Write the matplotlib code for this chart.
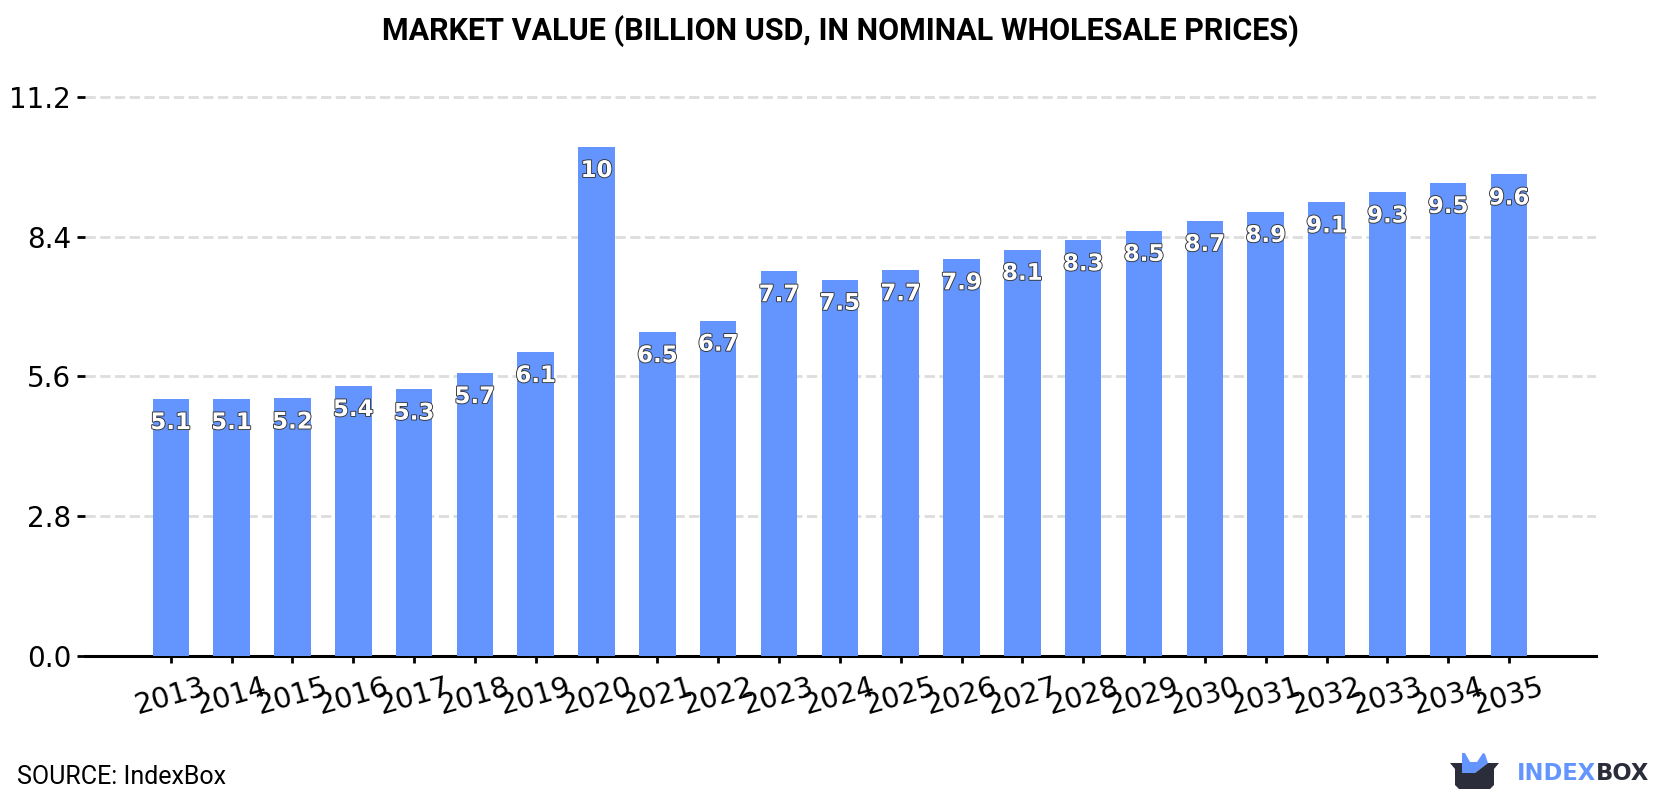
import matplotlib
matplotlib.use('Agg')
import matplotlib.pyplot as plt
import matplotlib.patheffects as pe
from matplotlib.patches import Polygon

years = list(range(2013, 2036))
values = [5.149, 5.149, 5.16, 5.41, 5.34, 5.67, 6.09, 10.2, 6.49, 6.72, 7.71, 7.54,
          7.73, 7.949, 8.14, 8.33, 8.52, 8.72, 8.90, 9.09, 9.29, 9.48, 9.649]
yticks = [0.0, 2.8, 5.6, 8.4, 11.2]

BLUE = '#6495ff'
DARK = '#2b2d3a'
W, H = 1680, 800

fig = plt.figure(figsize=(W / 100, H / 100), dpi=100)
ax = fig.add_axes([85 / W, 1 - 656 / H, (1596 - 85) / W, (656 - 90) / H])

ax.bar(years, values, width=0.6, color=BLUE, zorder=3)

# value labels sit just inside the top of each bar
for year, value in zip(years, values):
    ax.annotate(f'{value:.2g}', (year, value), xytext=(0, -17), textcoords='offset points',
                ha='center', va='center', fontsize=16.5, fontweight='bold', color='white',
                zorder=4, path_effects=[pe.withStroke(linewidth=1.3, foreground='#333333')])

ax.set_xlim(2011.59, 2036.43)
ax.set_ylim(0, 11.34)
ax.set_xticks(years)
ax.set_xticklabels([str(y) for y in years], rotation=16, fontsize=20.5)
ax.set_yticks(yticks)
ax.set_yticklabels([f'{t:.1f}' for t in yticks], fontsize=20)
ax.tick_params(axis='y', length=6, width=2, pad=4)
ax.tick_params(axis='x', length=5, width=2, pad=7)
ax.grid(axis='y', color='#dddddd', linestyle='--', linewidth=2, zorder=0)
ax.set_axisbelow(True)

for side in ['top', 'left', 'right']:
    ax.spines[side].set_visible(False)
ax.spines['bottom'].set_linewidth(2.2)

fig.text(840 / W, 1 - 31 / H, 'MARKET VALUE (BILLION USD, IN NOMINAL WHOLESALE PRICES)',
         family='Roboto', fontweight='bold', fontsize=22, ha='center', va='center', color='black')
fig.text(17 / W, 1 - 777 / H, 'SOURCE: IndexBox', family='Roboto', fontsize=18,
         ha='left', va='center', color='black')

# logo, laid out in pixel coordinates on a full-figure overlay
logo = fig.add_axes([0, 0, 1, 1], facecolor='none')
logo.set_xlim(0, W)
logo.set_ylim(H, 0)
logo.axis('off')
logo.add_patch(Polygon([(1462, 753), (1465, 753), (1470, 762), (1477, 762), (1483, 753), (1485, 754),
                       (1488, 763), (1475, 773), (1462, 773)], closed=True, color=BLUE, lw=0))
logo.add_patch(Polygon([(1450, 763), (1462, 763), (1462, 773), (1475, 773), (1488, 763), (1499, 763),
                       (1494, 769), (1494, 785), (1490, 789), (1459, 789), (1455, 785), (1455, 769)],
                       closed=True, color=DARK, lw=0))
logo.text(1517, 774, 'INDEX', family='DejaVu Sans', fontweight='bold', fontsize=16.3, color=BLUE,
          ha='left', va='center')
logo.text(1596, 774, 'BOX', family='DejaVu Sans', fontweight='bold', fontsize=16.3, color=DARK,
          ha='left', va='center')

fig.savefig('out.png', dpi=100, facecolor='white')
